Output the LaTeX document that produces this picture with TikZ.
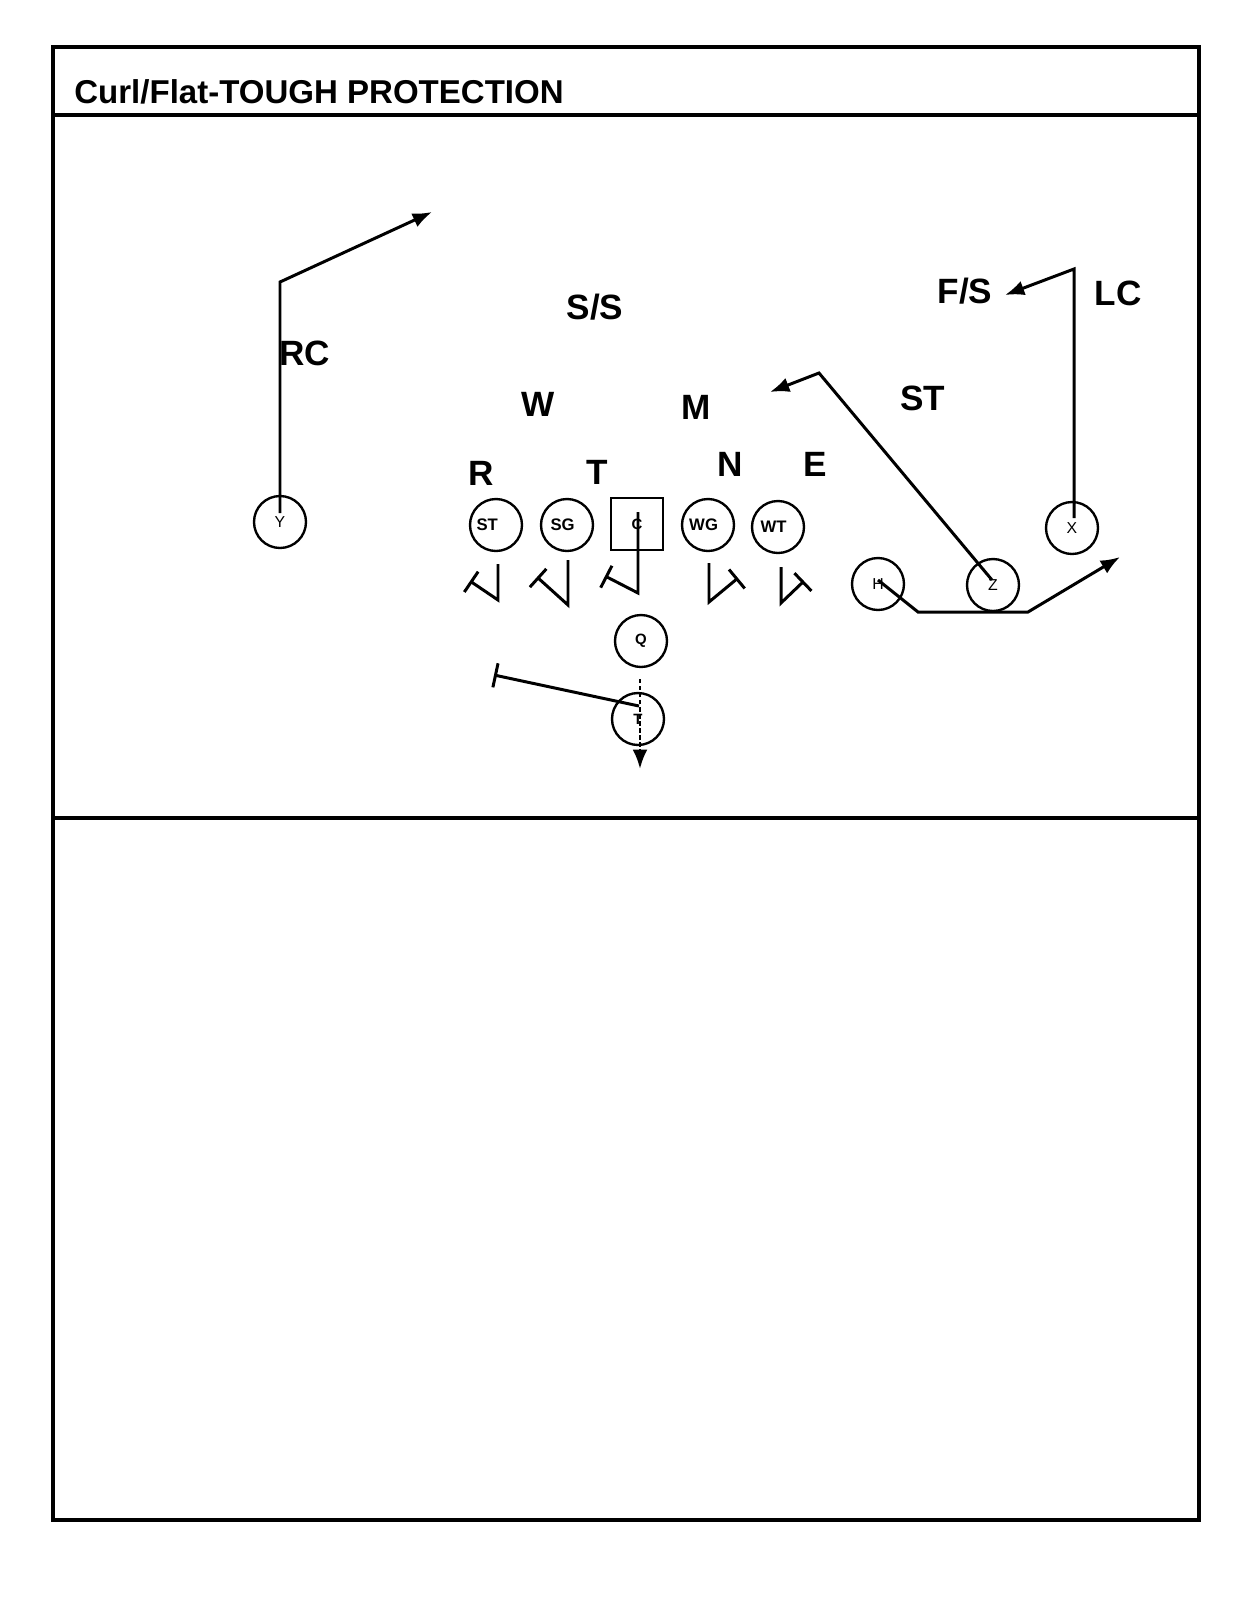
\documentclass[tikz,border=0pt]{standalone}
\usepackage{fontspec}
\setmainfont{Liberation Sans}
\usetikzlibrary{calc,arrows.meta}

\begin{document}
\begin{tikzpicture}[x=0.02cm,y=-0.02cm,
  player/.style={draw,circle,line width=1.35pt,minimum size=1.04cm,inner sep=0pt},
  lineman/.style={player,font=\fontsize{9.5}{10}\selectfont\bfseries},
  back/.style={player,font=\fontsize{8.5}{9}\selectfont\bfseries},
  skill/.style={player,font=\fontsize{9}{10}\selectfont},
  defender/.style={inner sep=0pt,font=\fontsize{20}{24}\selectfont\bfseries},
  route/.style={line width=1.7pt,-{Latex[length=11pt,width=8.5pt]}},
  pro/.style={line width=1.7pt,-{Bar[width=14pt]}}]
\useasboundingbox (0,0) rectangle (1237,1600);

% Page frame
\draw[line width=2pt] (53,47) rectangle (1199,1520);
\draw[line width=1.8pt] (53,115) -- (1199,115);
\draw[line width=1.8pt] (53,818) -- (1199,818);
\node[anchor=west, inner sep=0pt, font=\fontsize{18.8}{22}\selectfont\bfseries] (title) at (74,92) {Curl/Flat-TOUGH PROTECTION};

% Offense
\node[skill] (Y) at (280,522) {Y};
\node[lineman] (ST) at (496,525) {\hspace*{-10pt}ST};
\node[lineman] (SG) at (567,525) {\hspace*{-5pt}SG};
\node[draw, rectangle, line width=1.35pt, minimum size=1.04cm, inner sep=0pt, font=\fontsize{8.5}{9}\selectfont\bfseries] (C) at (637,524) {C};
\node[lineman] (WG) at (708,525) {\hspace*{-5pt}WG};
\node[lineman] (WT) at (778,527) {\hspace*{-5pt}WT};
\node[skill] (H) at (878,584) {H};
\node[skill] (Z) at (993,585) {Z};
\node[skill] (X) at (1072,528) {X};
\node[back] (Q) at (641,641) {Q};
\node[back] (T) at (638,719) {T};

% Defense
\node[defender] (rc) at (305,353) {RC};
\node[defender] (ss) at (595,307) {S/S};
\node[defender] (w) at (538,404) {W};
\node[defender] (m) at (696,407) {M};
\node[defender] (stl) at (923,398) {ST};
\node[defender] (fs) at (965,291) {F/S};
\node[defender] (lc) at (1118,293) {LC};
\node[defender] (r) at (481,473) {R};
\node[defender] (t) at (597,472) {T};
\node[defender] (n) at (730,464) {N};
\node[defender] (e) at (815,464) {E};

% Routes
\coordinate (ycut) at (280,282);
\coordinate (yend) at (432,212);
\draw[route] ($(Y)+(0,-9)$) -- (ycut) -- (yend);

\coordinate (zcut) at (819,373);
\coordinate (zend) at (770,392);
\draw[route] ($(Z)+(-1,-5)$) -- (zcut) -- (zend);

\coordinate (xcut) at (1074,269);
\coordinate (xend) at (1005,295);
\draw[route] ($(X)+(2,-10)$) -- (xcut) -- (xend);

\coordinate (hdown) at (918,612);
\coordinate (hflat) at (1028,612);
\coordinate (hend) at (1120,557);
\draw[route] ($(H)+(0,-4)$) -- (hdown) -- (hflat) -- (hend);

% Protection
\draw[pro] ($(ST)+(2,39)$) -- ($(ST)+(2,75)$) -- ($(ST)+(-26,56)$);
\draw[pro] ($(SG)+(1,35)$) -- ($(SG)+(1,80)$) -- ($(SG)+(-30,52)$);
\draw[pro] ($(C)+(1,-12)$) -- ($(C)+(1,69)$) -- ($(C)+(-32,52)$);
\draw[pro] ($(WG)+(1,38)$) -- ($(WG)+(1,77)$) -- ($(WG)+(30,53)$);
\draw[pro] ($(WT)+(3,40)$) -- ($(WT)+(3,76)$) -- ($(WT)+(26,54)$);

% Back
\coordinate (tblock) at (494,675);
\draw[pro] ($(T)+(1,-13)$) -- (tblock);
\draw[route, dash pattern=on 2.5pt off 1.5pt] ($(T)+(2,-40)$) -- ($(T)+(2,50)$);

\end{tikzpicture}
\end{document}
